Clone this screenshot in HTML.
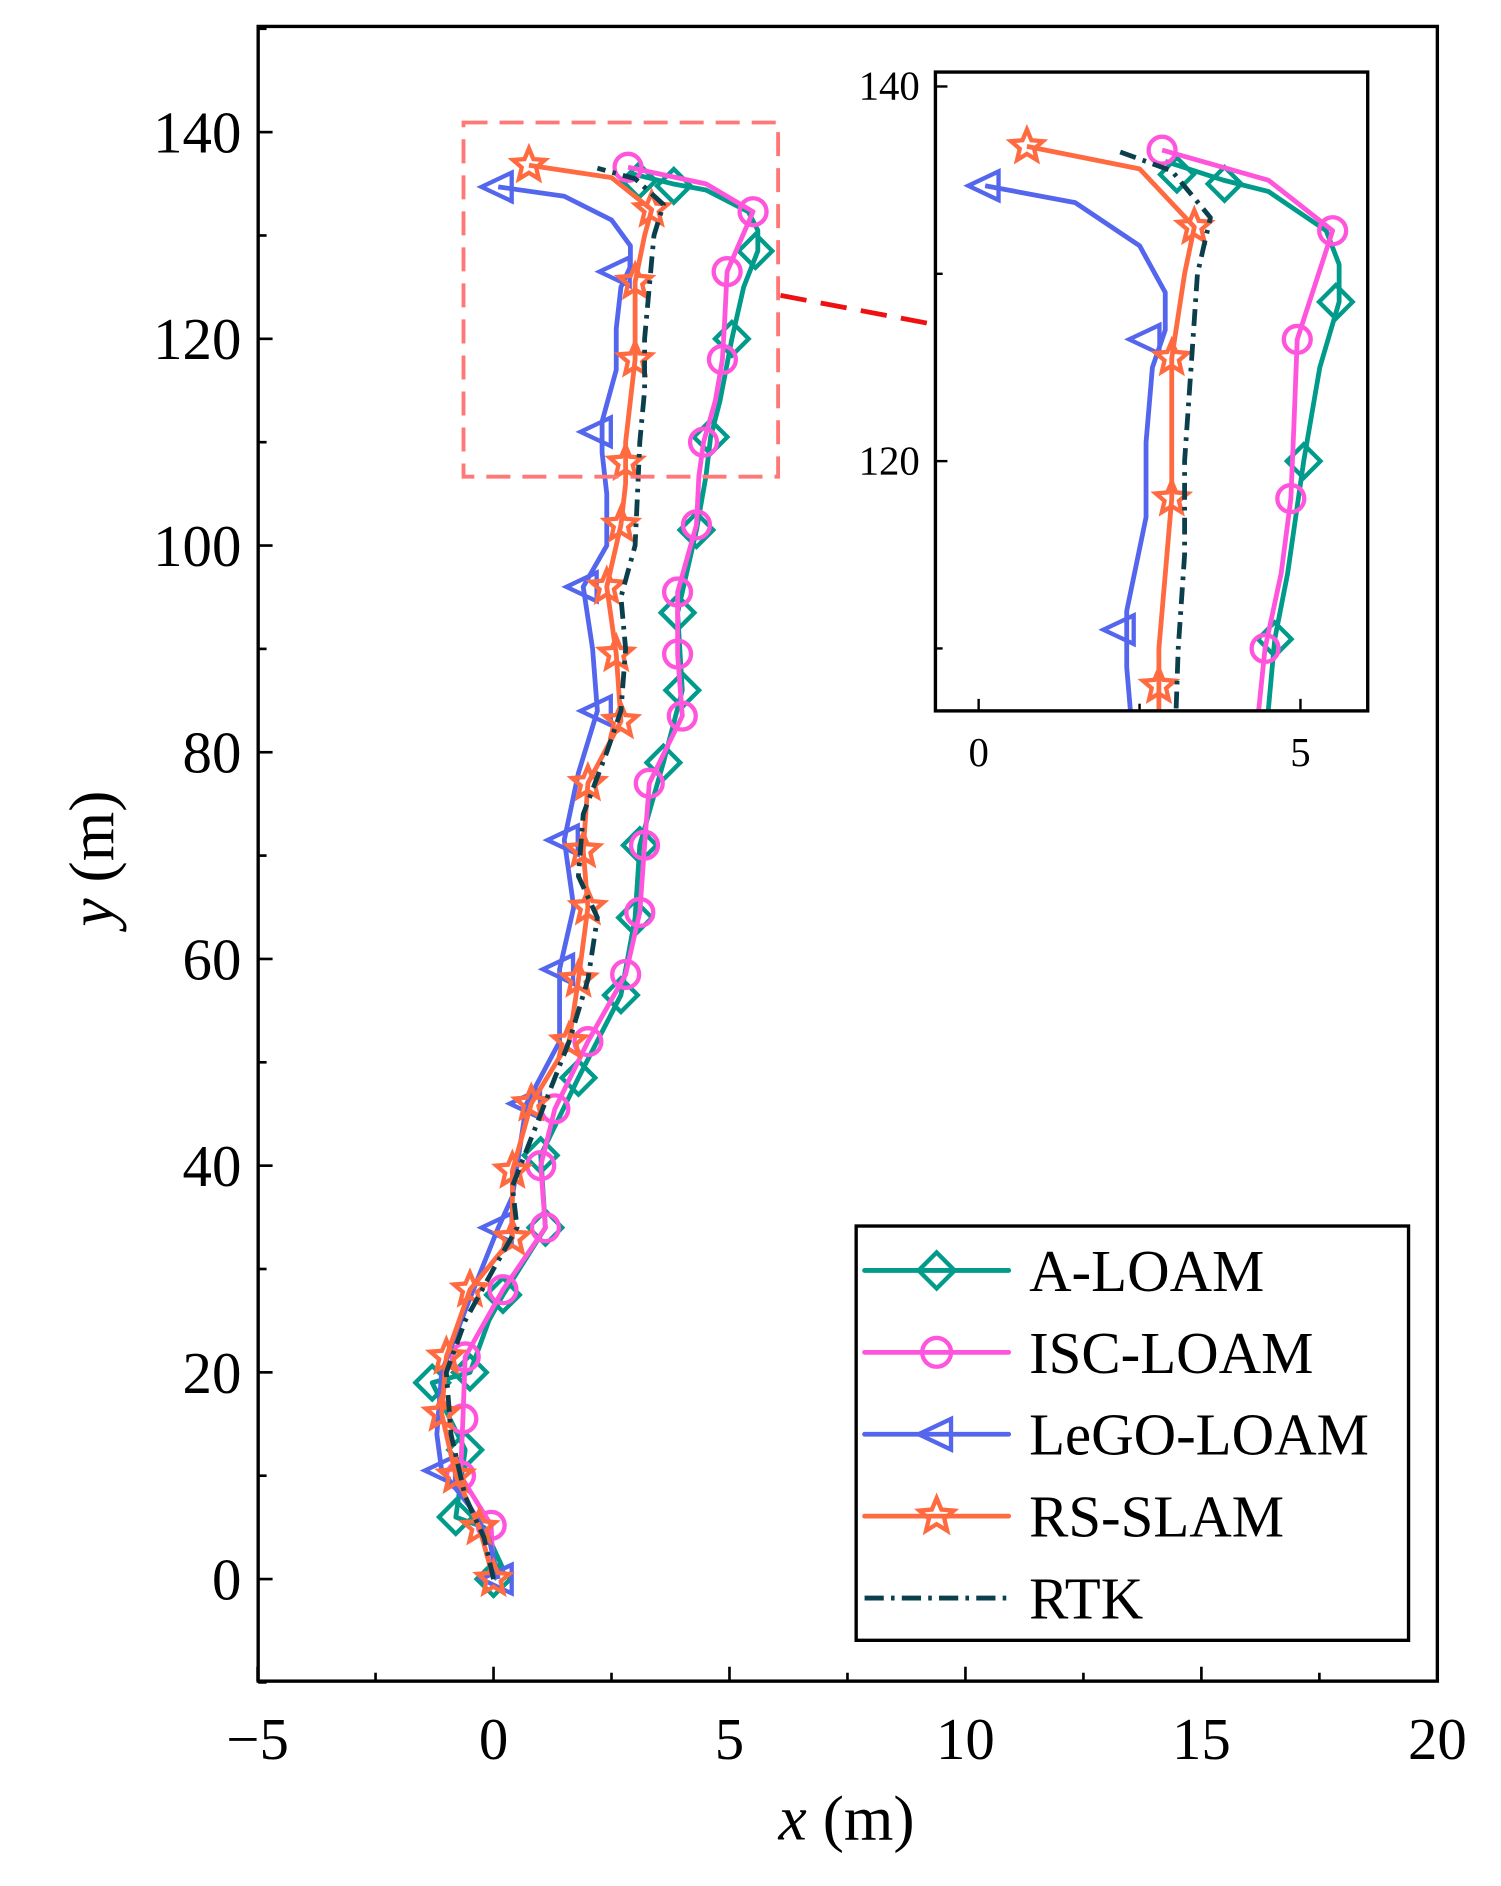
<!DOCTYPE html>
<html><head><meta charset="utf-8"><style>html,body{margin:0;padding:0;background:#fff;overflow:hidden;width:1501px;height:1886px}svg{display:block}</style></head>
<body>
<svg id="s" xmlns="http://www.w3.org/2000/svg" width="1501" height="1886" viewBox="0 0 1250 1570.6" font-family="Liberation Serif, serif">
<rect width="1250" height="1571" fill="#fff"/>
<defs>
<clipPath id="cm"><rect x="215" y="22" width="982" height="1378"/></clipPath>
<clipPath id="ci"><rect x="779" y="60" width="360" height="532"/></clipPath>
</defs>
<g id="main" clip-path="url(#cm)"></g>
<g id="ins" clip-path="url(#ci)"></g>
<g id="ax"></g>
</svg>
<script>
const NS="http://www.w3.org/2000/svg";
function el(p,t,a,txt){const e=document.createElementNS(NS,t);for(const k in a)e.setAttribute(k,a[k]);if(txt!=null)e.textContent=txt;p.appendChild(e);return e;}
const S=document.getElementById('s'),M=document.getElementById('main'),I=document.getElementById('ins'),A=document.getElementById('ax');
const mx=x=>411+x*39.3, my=y=>1315-y*8.607;
const ix=x=>815+x*53.6, iy=y=>384-(y-120)*15.6;
const C={a:"#009B8A",i:"#FF55DD",l:"#5566EE",r:"#FF6A40",t:"#0B3F4C"};
const data={
t:{line:[[0,0],[-0.2,4],[-0.6,8],[-0.9,14],[-1,20],[-0.6,25],[0,30],[0.5,34],[0.4,38],[1,45],[1.6,52],[2,58],[2.2,64],[1.8,68],[1.9,74],[2.4,80],[2.7,84],[2.8,90],[2.7,95],[3,100],[3.05,105],[3.1,110],[3.2,115],[3.2,120],[3.3,125],[3.4,130],[3.6,133],[3,135.5],[2.2,136.5]],m:[]},
r:{line:[[0,0],[-0.3,5],[-0.8,10],[-1.1,16],[-1,21.5],[-0.5,28],[0.4,33],[0.4,39.5],[0.8,46],[1.6,52],[1.8,58],[2,65],[1.9,70.5],[2,77],[2.7,83],[2.6,89.5],[2.4,96],[2.7,102],[2.8,106],[2.8,110],[3,118],[3,125.5],[3.2,130],[3.35,132.5],[2.5,135.6],[0.75,136.8]],
 m:[[0,0],[-0.3,5],[-0.8,10],[-1.1,16],[-1,21.5],[-0.5,28],[0.4,33],[0.4,39.5],[0.8,46],[1.6,52],[1.8,58],[2,65],[1.9,70.5],[2,77],[2.7,83],[2.6,89.5],[2.4,96],[2.7,102],[2.8,108],[3,118],[3,125.5],[3.35,132.5],[0.75,136.8]]},
a:{line:[[0,0],[0.2,1],[-0.2,5],[-0.8,6],[-0.6,12.5],[-1.3,19],[-0.5,20],[-0.1,25],[0.2,27.5],[1.1,34],[1,41],[1.8,48.5],[2.7,56.5],[3,64],[3.1,71],[3.6,79],[4,86],[3.9,93.5],[4.3,101.5],[4.5,106.7],[4.6,110.5],[4.8,114],[5.05,120],[5.3,125],[5.6,128.5],[5.6,130.5],[5.4,132.3],[4.5,134.4],[3.8,135],[2.9,136]],
 m:[[0,0],[-0.8,6],[-0.6,12.5],[-1.3,19],[-0.5,20],[0.2,27.5],[1.1,34],[1,41],[1.8,48.5],[2.7,56.5],[3,64],[3.1,71],[3.6,79],[4,86],[3.9,93.5],[4.3,101.5],[4.6,110.5],[5.05,120],[5.55,128.5],[3.82,134.8],[3.08,135.3]]},
i:{line:[[0,0],[-0.05,5.2],[-0.7,10],[-0.65,15.5],[-0.6,21.5],[0.2,28],[1.1,34],[1,40],[1.3,45.5],[2,52],[2.8,58.5],[3.1,64.5],[3.2,71],[3.3,77],[4,83.5],[3.9,89.5],[3.9,95.5],[4.3,102],[4.35,106.7],[4.45,110],[4.7,114],[4.85,118],[4.9,122],[4.95,126.5],[5.5,132.3],[4.5,135],[2.85,136.6]],
 m:[[-0.05,5.2],[-0.7,10],[-0.65,15.5],[-0.6,21.5],[0.2,28],[1.1,34],[1,40],[1.3,45.5],[2,52],[2.8,58.5],[3.1,64.5],[3.2,71],[3.3,77],[4,83.5],[3.9,89.5],[3.9,95.5],[4.3,102],[4.45,110],[4.85,118],[4.95,126.5],[5.5,132.3],[2.85,136.6]]},
l:{line:[[0.1,0],[-0.1,4],[-0.5,7],[-1.1,10.5],[-1.2,14],[-1.1,20],[-0.6,26],[0.1,34],[0.4,37],[0.7,46],[1.4,52],[1.4,59],[1.7,65],[1.5,71.5],[1.8,78],[2.2,84],[2.1,90],[1.9,96],[2.4,100],[2.4,105],[2.3,109],[2.3,112],[2.6,117],[2.6,121],[2.7,125],[2.9,127],[2.9,129],[2.5,131.5],[1.5,133.8],[0.1,134.7]],
 m:[[0.1,0],[-1.1,10.5],[0.1,34],[0.7,46],[1.4,59],[1.5,71.5],[2.2,84],[1.9,96],[2.2,111],[2.6,126.5],[0.1,134.7]]}
};
function mark(g,k,x,y,s){
 const c=C[k],st={fill:"none",stroke:c,"stroke-width":3.6};
 if(k=='a')el(g,'path',Object.assign({d:`M${x-s} ${y}L${x} ${y-s}L${x+s} ${y}L${x} ${y+s}Z`},st));
 else if(k=='i')el(g,'circle',Object.assign({cx:x,cy:y,r:s*0.8},st));
 else if(k=='l')el(g,'path',Object.assign({d:`M${x-s} ${y}L${x+s*0.8} ${y-s*0.85}L${x+s*0.8} ${y+s*0.85}Z`},st));
 else if(k=='r'){let d='';for(let j=0;j<10;j++){const r=j%2?s*0.45:s,an=-Math.PI/2+j*Math.PI/5;d+=(j?'L':'M')+(x+r*Math.cos(an)).toFixed(1)+' '+(y+r*Math.sin(an)).toFixed(1);}el(g,'path',Object.assign({d:d+'Z'},st));}
}
function draw(g,fx,fy,s){
 for(const k of ['a','i','l','r','t']){
  const d=data[k];
  const pts=d.line.map(p=>fx(p[0]).toFixed(1)+','+fy(p[1]).toFixed(1)).join(' ');
  const a={points:pts,fill:"none",stroke:C[k],"stroke-width":4,"stroke-linejoin":"round"};
  if(k=='t'){a["stroke-dasharray"]="14,6,3,6";}
  el(g,'polyline',a);
  for(const p of d.m)mark(g,k,fx(p[0]),fy(p[1]),s);
 }
}
draw(M,mx,my,14);
draw(I,ix,iy,14);
el(A,'rect',{x:386,y:102,width:262,height:295,fill:"none",stroke:"#FF7777","stroke-width":3.2,"stroke-dasharray":"20,10"});
el(A,'line',{x1:650,y1:246,x2:777,y2:270,stroke:"#EE1111","stroke-width":4,"stroke-dasharray":"22,12"});
el(A,'rect',{x:215,y:22,width:982,height:1378,fill:"none",stroke:"#000","stroke-width":2.8});
for(let x=-5;x<=20;x+=2.5){const px=mx(x),maj=x%5==0;el(A,'line',{x1:px,y1:1400,x2:px,y2:1400-(maj?12:7),stroke:"#000","stroke-width":2.2});
 if(maj)el(A,'text',{x:px,y:1465,"text-anchor":"middle","font-size":49},x<0?"\u2212"+(-x):String(x));}
for(let y=-10;y<=150;y+=10){const py=my(y),maj=y%20==0;el(A,'line',{x1:215,y1:py,x2:215+(maj?12:7),y2:py,stroke:"#000","stroke-width":2.2});
 if(maj&&y>=0&&y<=140)el(A,'text',{x:201,y:py+17,"text-anchor":"end","font-size":49},String(y));}
const xl=el(A,'text',{x:705,y:1532,"text-anchor":"middle","font-size":53});
el(xl,'tspan',{"font-style":"italic"},"x");el(xl,'tspan',{},"\u00a0(m)");
const yl=el(A,'text',{x:0,y:0,"text-anchor":"middle","font-size":53,transform:"translate(94,715) rotate(-90)"});
el(yl,'tspan',{"font-style":"italic"},"y");el(yl,'tspan',{},"\u00a0(m)");
el(A,'rect',{x:779,y:60,width:360,height:532,fill:"none",stroke:"#000","stroke-width":2.8});
for(let y=110;y<=140;y+=10){const py=iy(y);el(A,'line',{x1:779,y1:py,x2:779+(y%20==0?10:6),y2:py,stroke:"#000","stroke-width":2});
 if(y%20==0)el(A,'text',{x:766,y:py+11,"text-anchor":"end","font-size":34},String(y));}
for(let x=0;x<=5;x+=2.5){const px=ix(x);el(A,'line',{x1:px,y1:592,x2:px,y2:592-(x%5==0?10:6),stroke:"#000","stroke-width":2});
 if(x%5==0)el(A,'text',{x:px,y:638,"text-anchor":"middle","font-size":34},String(x));}
el(A,'rect',{x:713,y:1021,width:460,height:345,fill:"#fff",stroke:"#000","stroke-width":2.8});
const L=[['a','A-LOAM'],['i','ISC-LOAM'],['l','LeGO-LOAM'],['r','RS-SLAM'],['t','RTK']];
L.forEach((e,j)=>{const y=1058+j*68.2,k=e[0];
 const a={x1:720,y1:y,x2:840,y2:y,stroke:C[k],"stroke-width":4,"stroke-linecap":"round"};
 if(k=='t'){a["stroke-dasharray"]="16,6,3,6";a["stroke-linecap"]="butt";}
 el(A,'line',a); if(k!='t')mark(A,k,780,y,15);
 el(A,'text',{x:857,y:y+17,"font-size":49},e[1]);});
</script>
</body></html>
